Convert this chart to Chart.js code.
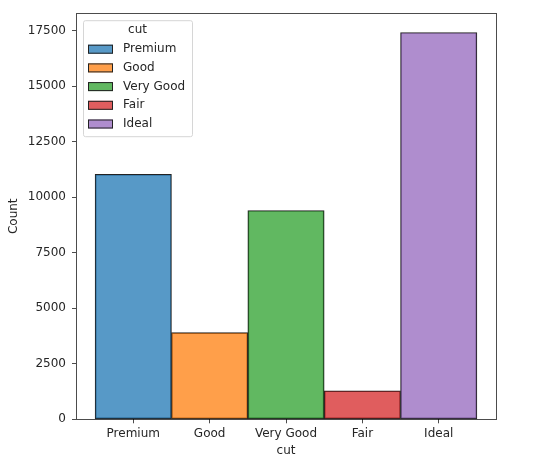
<!DOCTYPE html>
<html>
<head>
<meta charset="utf-8">
<script src="https://cdn.jsdelivr.net/npm/chart.js@4"></script>
<style>
    html, body { margin: 0; padding: 0; background: #fff; }
    #wrap { width: 545px; height: 468px; }
</style>
</head>
<body>
<div id="wrap"><canvas id="cutChart"></canvas></div>
<script>
// Data
const categories = ['Premium', 'Good', 'Very Good', 'Fair', 'Ideal'];
const counts = [11030, 3905, 9400, 1285, 17410];
const yTicks = [0, 2500, 5000, 7500, 10000, 12500, 15000, 17500];
const barColors = [
    'rgba(31, 119, 180, 0.75)',
    'rgba(255, 127, 14, 0.75)',
    'rgba(44, 160, 44, 0.75)',
    'rgba(214, 39, 40, 0.75)',
    'rgba(148, 103, 189, 0.75)'
];

const FONT = 'DejaVu Sans';
const TEXT = '#262626';
const SPINE = 'rgba(0, 0, 0, 0.7)';

// Frame round the plot area, like matplotlib spines
const framePlugin = {
    id: 'frame',
    afterDatasetsDraw(chart) {
        const a = chart.chartArea;
        const ctx = chart.ctx;
        ctx.save();
        ctx.strokeStyle = SPINE;
        ctx.lineWidth = 1;
        ctx.strokeRect(Math.round(a.left) + 0.5, Math.round(a.top) + 0.5,
            Math.round(a.right - a.left), Math.round(a.bottom - a.top));
        ctx.restore();
    }
};

// Legend box inside the plot, top left, with the "cut" title
const legendPlugin = {
    id: 'cutLegend',
    afterDraw(chart) {
        const ctx = chart.ctx;
        const a = chart.chartArea;
        const x0 = a.left + 7, y0 = a.top + 7;
        const w = 109, h = 116;
        ctx.save();
        ctx.fillStyle = 'rgba(255,255,255,0.8)';
        ctx.strokeStyle = '#d6d6d6';
        ctx.lineWidth = 1;
        ctx.beginPath();
        ctx.roundRect(x0 + 0.5, y0 + 0.5, w, h, 2);
        ctx.fill();
        ctx.stroke();

        ctx.font = '12px ' + FONT;
        ctx.fillStyle = TEXT;
        ctx.textBaseline = 'middle';
        ctx.textAlign = 'center';
        ctx.fillText('cut', x0 + w / 2, y0 + 10);

        ctx.textAlign = 'left';
        categories.forEach((c, i) => {
            const cy = y0 + 29 + i * 18.7;
            ctx.fillStyle = barColors[i];
            ctx.fillRect(x0 + 5, cy - 4.5, 25, 9);
            ctx.strokeStyle = '#222';
            ctx.strokeRect(x0 + 5.5, cy - 4, 24, 8);
            ctx.fillStyle = TEXT;
            ctx.fillText(c, x0 + 40, cy);
        });
        ctx.restore();
    }
};

document.addEventListener('DOMContentLoaded', function() {
    const ctx = document.getElementById('cutChart').getContext('2d');

    new Chart(ctx, {
        type: 'bar',
        data: {
            datasets: [{
                label: 'cut',
                data: counts.map((v, i) => ({ x: i, y: v })),
                backgroundColor: barColors,
                borderColor: '#222',
                borderWidth: 1,
                borderSkipped: false,
                barPercentage: 1,
                categoryPercentage: 1
            }]
        },
        options: {
            responsive: true,
            maintainAspectRatio: false,
            animation: false,
            devicePixelRatio: 1,
            layout: {
                padding: { top: 12, right: 49, bottom: 0, left: 0 }
            },
            plugins: {
                legend: { display: false },
                tooltip: { enabled: false }
            },
            scales: {
                x: {
                    type: 'linear',
                    offset: false,
                    min: -0.75,
                    max: categories.length - 0.25,
                    afterBuildTicks: scale => {
                        scale.ticks = categories.map((c, i) => ({ value: i }));
                    },
                    afterFit: scale => { scale.height = 48.7; },
                    ticks: {
                        autoSkip: false,
                        maxRotation: 0,
                        padding: 3,
                        color: TEXT,
                        font: { family: FONT, size: 12 },
                        callback: v => categories[v]
                    },
                    grid: {
                        display: true,
                        offset: false,
                        drawOnChartArea: false,
                        drawTicks: true,
                        tickLength: 4,
                        color: SPINE
                    },
                    border: { display: false },
                    title: {
                        display: true,
                        text: 'cut',
                        color: TEXT,
                        font: { family: FONT, size: 12 },
                        padding: { top: 0, bottom: 10 }
                    }
                },
                y: {
                    min: 0,
                    max: 18280,
                    afterBuildTicks: scale => {
                        scale.ticks = yTicks.map(v => ({ value: v }));
                    },
                    afterFit: scale => { scale.width = 76; },
                    ticks: {
                        padding: 6,
                        color: TEXT,
                        font: { family: FONT, size: 12 },
                        callback: v => String(v)
                    },
                    grid: {
                        display: true,
                        drawOnChartArea: false,
                        drawTicks: true,
                        tickLength: 4,
                        color: SPINE
                    },
                    border: { display: false },
                    title: {
                        display: true,
                        text: 'Count',
                        color: TEXT,
                        font: { family: FONT, size: 12 },
                        padding: { top: 7, bottom: 0 }
                    }
                }
            }
        },
        plugins: [framePlugin, legendPlugin]
    });
});
</script>
</body>
</html>
